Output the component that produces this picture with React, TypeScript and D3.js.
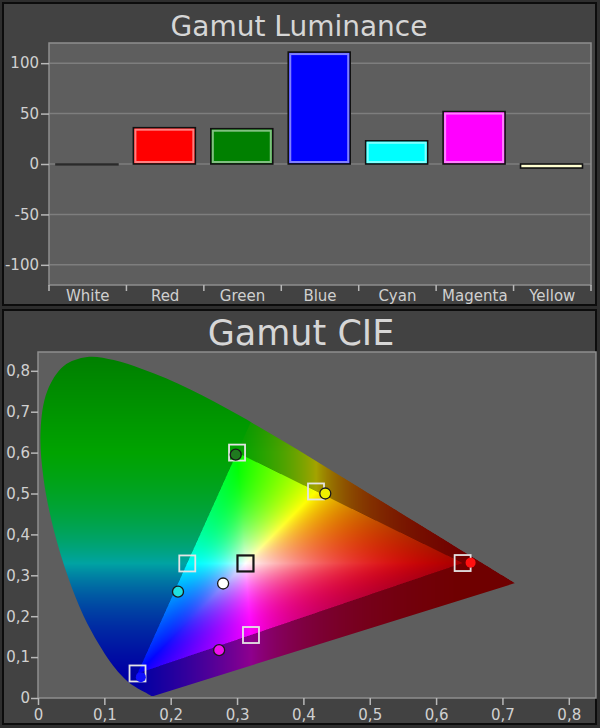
import React, { useEffect, useRef } from 'react';
import * as d3 from 'd3';

// ---- Gamut Luminance data ----
const lumCategories = ['White', 'Red', 'Green', 'Blue', 'Cyan', 'Magenta', 'Yellow'];
const lumValues = [-0.8, 36, 35, 111, 23, 52, -4];
const lumColors = ['#ffffff', '#ff0000', '#008000', '#0000ff', '#00ffff', '#ff00ff', '#ffffd0'];
const lumTicks = [-100, -50, 0, 50, 100];

// ---- Gamut CIE data ----
const targetNames = ['Red', 'Green', 'Blue', 'White', 'Cyan', 'Magenta', 'Yellow'];
const targetX = [0.64, 0.3, 0.15, 0.3127, 0.225, 0.321, 0.419];
const targetY = [0.33, 0.6, 0.06, 0.329, 0.329, 0.154, 0.505];
const measuredX = [0.652, 0.298, 0.155, 0.279, 0.211, 0.273, 0.433];
const measuredY = [0.331, 0.595, 0.051, 0.28, 0.26, 0.117, 0.5];
const measuredColors = ['#ff1010', '#1f7a1f', '#1010ff', '#ffffff', '#20e0e0', '#f010f0', '#f0f000'];
const cieTicks = [0, 0.1, 0.2, 0.3, 0.4, 0.5, 0.6, 0.7, 0.8];

// CIE 1931 spectral locus, 380-640 nm in 5 nm steps
const locusX = [0.1741, 0.174, 0.1738, 0.1736, 0.1733, 0.173, 0.1726, 0.1721, 0.1714, 0.1703, 0.1689, 0.1669,
  0.1644, 0.1611, 0.1566, 0.151, 0.144, 0.1355, 0.1241, 0.1096, 0.0913, 0.0687, 0.0454, 0.0235, 0.0082, 0.0039,
  0.0139, 0.0389, 0.0743, 0.1142, 0.1547, 0.1929, 0.2296, 0.2658, 0.3016, 0.3373, 0.3731, 0.4087, 0.4441, 0.4788,
  0.5125, 0.5448, 0.5752, 0.6029, 0.627, 0.6482, 0.6658, 0.6801, 0.6915, 0.7006, 0.7079, 0.714, 0.719];
const locusY = [0.005, 0.005, 0.0049, 0.0049, 0.0048, 0.0048, 0.0048, 0.0048, 0.0051, 0.0058, 0.0069, 0.0086,
  0.0109, 0.0138, 0.0177, 0.0227, 0.0297, 0.0399, 0.0578, 0.0868, 0.1327, 0.2007, 0.295, 0.4127, 0.5384, 0.6548,
  0.7502, 0.812, 0.8338, 0.8262, 0.8059, 0.7816, 0.7543, 0.7243, 0.6923, 0.6589, 0.6245, 0.5896, 0.5547, 0.5202,
  0.4866, 0.4544, 0.4242, 0.3965, 0.3725, 0.3514, 0.334, 0.3197, 0.3083, 0.2993, 0.292, 0.2859, 0.2809];

const W = 600;
const H = 728;
const FONT = '"DejaVu Sans", Verdana, sans-serif';

const encode = (c: number) => Math.pow(c, 0.85);

// xy chromaticity -> linear sRGB, normalised so the largest channel is 1
function chromaLin(x: number, y: number): [number, number, number] {
  const X = x / y;
  const Z = (1 - x - y) / y;
  const r = Math.max(0, 3.2406 * X - 1.5372 - 0.4986 * Z);
  const g = Math.max(0, -0.9689 * X + 1.8758 + 0.0415 * Z);
  const b = Math.max(0, 0.0557 * X - 0.204 + 1.057 * Z);
  const m = Math.max(r, g, b) || 1;
  return [r / m, g / m, b / m];
}

// is point outside the triangle edge a-b (c is the opposite vertex)
function outside(a: number, b: number, c: number, px: number, py: number): boolean {
  const ex = targetX[b] - targetX[a], ey = targetY[b] - targetY[a];
  const s1 = ex * (py - targetY[a]) - ey * (px - targetX[a]);
  const s2 = ex * (targetY[c] - targetY[a]) - ey * (targetX[c] - targetX[a]);
  return s1 * s2 < 0;
}

// fraction of the way from the white point to the triangle edge
function edgeFraction(px: number, py: number): number {
  const wx = targetX[3], wy = targetY[3];
  const dx = px - wx, dy = py - wy;
  let best = Infinity;
  for (let k = 0; k < 3; k++) {
    const ax = targetX[k], ay = targetY[k];
    const ex = targetX[(k + 1) % 3] - ax, ey = targetY[(k + 1) % 3] - ay;
    const det = -dx * ey + ex * dy;
    if (Math.abs(det) < 1e-12) continue;
    const rx = ax - wx, ry = ay - wy;
    const s = (-rx * ey + ex * ry) / det;
    const u = (dx * ry - dy * rx) / det;
    if (s > 0 && u >= -1e-9 && u <= 1 + 1e-9 && s < best) best = s;
  }
  return best === Infinity ? 0 : 1 / best;
}

const clamp01 = (v: number) => Math.max(0, Math.min(1, v));

function pixelColor(px: number, py: number): [number, number, number] {
  const [Rx, Gx, Bx] = [targetX[0], targetX[1], targetX[2]];
  const [Ry, Gy, By] = [targetY[0], targetY[1], targetY[2]];
  const wx = targetX[3], wy = targetY[3];
  const outGB = outside(1, 2, 0, px, py);
  const outRG = outside(0, 1, 2, px, py);
  const outBR = outside(2, 0, 1, px, py);

  if (!outGB && !outRG && !outBR) {
    const q = edgeFraction(px, py);
    if (q < 1e-6) return [1, 1, 1];
    const [r, g, b] = chromaLin(wx + (px - wx) / q, wy + (py - wy) / q);
    const sat = 1 - Math.pow(1 - Math.min(1, q), 2.2);
    const dark = 1 - 0.35 * q * q * r * (1 - g) * (1 - b);
    return [r, g, b].map(c => (1 - sat * (1 - encode(c))) * dark) as [number, number, number];
  }

  let ex: number, ey: number;
  if (outGB) {
    const u = clamp01((Gy - py) / (Gy - By));
    ex = Gx + u * (Bx - Gx); ey = Gy + u * (By - Gy);
  } else if (outRG) {
    const u = clamp01((px - Gx) / (Rx - Gx));
    ex = Gx + u * (Rx - Gx); ey = Gy + u * (Ry - Gy);
  } else {
    const u = clamp01((px - Bx) / (Rx - Bx));
    ex = Bx + u * (Rx - Bx); ey = By + u * (Ry - By);
  }
  const [r, g, b] = chromaLin(ex, ey);
  const f = (0.64 - 0.6 * Math.max(0, py - 0.6)) * (1 - 0.32 * r * (1 - g) * (1 - 0.6 * b));
  return [r * f, g * f, b * f];
}

const App: React.FC = () => {
  const ref = useRef<SVGSVGElement>(null);

  useEffect(() => {
    if (!ref.current) return;
    const svg = d3.select(ref.current);
    svg.selectAll('*').remove();

    svg.append('rect').attr('width', W).attr('height', H).attr('fill', '#2e2e2e');

    const panels = [[3, 3, 593, 302], [3, 310, 593, 414]];
    svg.selectAll('.panel')
      .data(panels)
      .enter().append('rect')
      .attr('x', d => d[0]).attr('y', d => d[1])
      .attr('width', d => d[2]).attr('height', d => d[3])
      .attr('fill', '#424242')
      .attr('stroke', '#0c0c0c')
      .attr('stroke-width', 2);

    // ================= Gamut Luminance =================
    const lx = d3.scaleBand<string>().domain(lumCategories).range([49, 591]);
    const ly = d3.scaleLinear().domain([-120, 120]).range([285, 43]);
    const bw = lx.bandwidth();

    svg.append('text')
      .attr('x', 299).attr('y', 36)
      .attr('text-anchor', 'middle')
      .attr('font-family', FONT).attr('font-size', 28)
      .attr('fill', '#d6d6d6')
      .text('Gamut Luminance');

    svg.append('rect')
      .attr('x', 49).attr('y', 43).attr('width', 542).attr('height', 242)
      .attr('fill', '#5e5e5e');

    svg.append('g').selectAll('line')
      .data(lumTicks)
      .enter().append('line')
      .attr('x1', 49).attr('x2', 591)
      .attr('y1', d => ly(d)).attr('y2', d => ly(d))
      .attr('stroke', '#7e7e7e').attr('stroke-width', 1.5);

    const bars = svg.append('g').selectAll('g')
      .data(lumCategories.map((c, i) => ({ c, v: lumValues[i], col: lumColors[i] })))
      .enter().append('g');

    bars.append('rect')
      .attr('x', d => (lx(d.c) as number) + bw * 0.09)
      .attr('width', bw * 0.8)
      .attr('y', d => ly(Math.max(0, d.v)))
      .attr('height', d => Math.abs(ly(d.v) - ly(0)))
      .attr('fill', d => d.col)
      .attr('stroke', d => (Math.abs(d.v) < 1 ? '#2a2a2a' : '#111'))
      .attr('stroke-width', 1.6);

    bars.filter(d => Math.abs(ly(d.v) - ly(0)) > 6)
      .append('rect')
      .attr('x', d => (lx(d.c) as number) + bw * 0.09 + 2)
      .attr('width', bw * 0.8 - 4)
      .attr('y', d => ly(Math.max(0, d.v)) + 2)
      .attr('height', d => Math.abs(ly(d.v) - ly(0)) - 4)
      .attr('fill', 'none')
      .attr('stroke', d => d3.interpolateRgb(d.col, '#ffffff')(0.5))
      .attr('stroke-width', 2);

    svg.append('rect')
      .attr('x', 49).attr('y', 43).attr('width', 542).attr('height', 242)
      .attr('fill', 'none').attr('stroke', '#8e8e8e').attr('stroke-width', 1.5);

    const lumAxis = svg.append('g')
      .attr('transform', 'translate(49,0)')
      .call(d3.axisLeft(ly).tickValues(lumTicks).tickSize(8).tickPadding(2).tickFormat(d => String(d)));
    lumAxis.select('.domain').remove();
    lumAxis.selectAll('line').attr('stroke', '#b8b8b8').attr('stroke-width', 1.5);
    lumAxis.selectAll('text').attr('fill', '#d0d0d0').attr('font-size', 15).attr('font-family', FONT);

    const bounds = [...lumCategories.map(c => lx(c) as number), 591];
    svg.append('g').selectAll('line')
      .data(bounds)
      .enter().append('line')
      .attr('x1', d => d).attr('x2', d => d)
      .attr('y1', 285).attr('y2', 291)
      .attr('stroke', '#b8b8b8').attr('stroke-width', 1.5);

    svg.append('g').selectAll('text')
      .data(lumCategories)
      .enter().append('text')
      .attr('x', d => (lx(d) as number) + bw / 2)
      .attr('y', 301)
      .attr('text-anchor', 'middle')
      .attr('font-family', FONT).attr('font-size', 15)
      .attr('fill', '#d0d0d0')
      .text(d => d);

    // ================= Gamut CIE =================
    const cx = d3.scaleLinear().domain([0, 0.841]).range([38, 596]);
    const cy = d3.scaleLinear().domain([0, 0.846]).range([698, 352]);
    const left = 38, top = 352, pw = 558, ph = 346;

    svg.append('text')
      .attr('x', 301).attr('y', 345)
      .attr('text-anchor', 'middle')
      .attr('font-family', FONT).attr('font-size', 35)
      .attr('fill', '#d6d6d6')
      .text('Gamut CIE');

    svg.append('rect')
      .attr('x', left).attr('y', top).attr('width', pw).attr('height', ph)
      .attr('fill', '#5e5e5e');

    // colour field rendered into a canvas, clipped by the spectral locus
    const scale = 2;
    const canvas = document.createElement('canvas');
    canvas.width = pw * scale;
    canvas.height = ph * scale;
    const ctx = canvas.getContext('2d');
    if (ctx) {
      const img = ctx.createImageData(canvas.width, canvas.height);
      for (let j = 0; j < canvas.height; j++) {
        const py = cy.invert(top + (j + 0.5) / scale);
        for (let i = 0; i < canvas.width; i++) {
          const px = cx.invert(left + (i + 0.5) / scale);
          const k = (j * canvas.width + i) * 4;
          if (py <= 0.001 || px < 0 || px + py > 1) {
            img.data[k + 3] = 0;
            continue;
          }
          const [r, g, b] = pixelColor(px, py);
          img.data[k] = Math.round(clamp01(r) * 255);
          img.data[k + 1] = Math.round(clamp01(g) * 255);
          img.data[k + 2] = Math.round(clamp01(b) * 255);
          img.data[k + 3] = 255;
        }
      }
      ctx.putImageData(img, 0, 0);
    }

    const locusPts: [number, number][] = locusX.map((x, i) => [x, locusY[i]]);
    const locusLine = d3.line<[number, number]>()
      .x(d => cx(d[0]))
      .y(d => cy(d[1]))
      .curve(d3.curveCatmullRom.alpha(0.5));

    svg.append('defs').append('clipPath').attr('id', 'locus-clip')
      .append('path')
      .attr('d', locusLine(locusPts) + 'Z');

    svg.append('image')
      .attr('x', left).attr('y', top).attr('width', pw).attr('height', ph)
      .attr('preserveAspectRatio', 'none')
      .attr('href', canvas.toDataURL())
      .attr('clip-path', 'url(#locus-clip)');

    svg.append('rect')
      .attr('x', left).attr('y', top).attr('width', pw).attr('height', ph)
      .attr('fill', 'none').attr('stroke', '#8e8e8e').attr('stroke-width', 1.5);

    const fmt = d3.formatLocale({ decimal: ',', thousands: '.', grouping: [3], currency: ['', ''] }).format('.1~f');

    const xAxis = svg.append('g')
      .attr('transform', `translate(0,${698})`)
      .call(d3.axisBottom(cx).tickValues(cieTicks).tickSize(7).tickPadding(4).tickFormat(d => fmt(d as number)));
    const yAxis = svg.append('g')
      .attr('transform', `translate(${38},0)`)
      .call(d3.axisLeft(cy).tickValues(cieTicks).tickSize(7).tickPadding(1).tickFormat(d => fmt(d as number)));
    [xAxis, yAxis].forEach(a => {
      a.select('.domain').remove();
      a.selectAll('line').attr('stroke', '#b8b8b8').attr('stroke-width', 1.5);
      a.selectAll('text').attr('fill', '#d0d0d0').attr('font-size', 15).attr('font-family', FONT);
    });

    // target squares
    svg.append('g').selectAll('rect')
      .data(targetNames.map((n, i) => ({ n, x: targetX[i], y: targetY[i] })))
      .enter().append('rect')
      .attr('x', d => cx(d.x) - 8).attr('y', d => cy(d.y) - 8)
      .attr('width', 16).attr('height', 16)
      .attr('fill', 'none')
      .attr('stroke', d => (d.n === 'White' ? '#151515' : '#e4e4e4'))
      .attr('stroke-width', d => (d.n === 'White' ? 2.2 : 1.8));

    // measured points
    svg.append('g').selectAll('circle')
      .data(targetNames.map((n, i) => ({ n, x: measuredX[i], y: measuredY[i], col: measuredColors[i] })))
      .enter().append('circle')
      .attr('cx', d => cx(d.x)).attr('cy', d => cy(d.y))
      .attr('r', d => (d.n === 'Red' || d.n === 'Blue' ? 5 : 5.5))
      .attr('fill', d => d.col)
      .attr('stroke', d => (d.n === 'Red' || d.n === 'Blue' ? 'none' : '#1a1a1a'))
      .attr('stroke-width', 1.3);
  }, []);

  return (
    <svg
      ref={ref}
      width={W}
      height={H}
      style={{ position: 'absolute', left: 0, top: 0, display: 'block' }}
    />
  );
};

export default App;
